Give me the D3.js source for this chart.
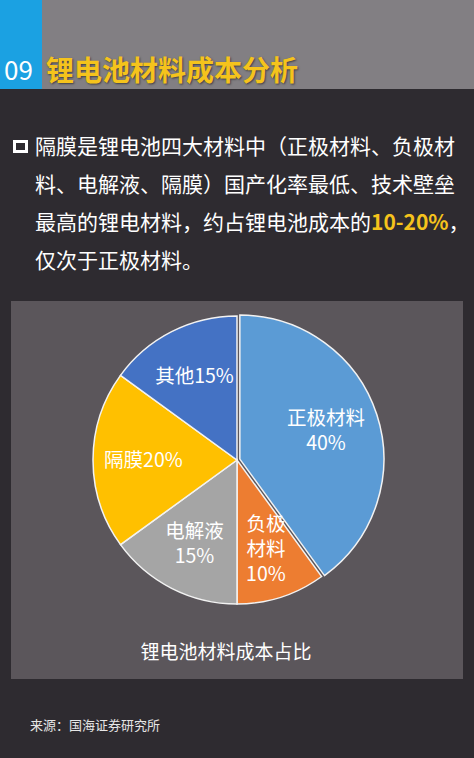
<!DOCTYPE html>
<html>
<head>
<meta charset="utf-8">
<script src="https://cdn.jsdelivr.net/npm/d3@7"></script>
<style>
  html, body { margin: 0; padding: 0; background: #2e2b30; }
  svg { display: block; }
</style>
</head>
<body>
<div id="chart"></div>
<script>
// Chart data
const categories = ['正极材料', '负极材料', '电解液', '隔膜', '其他'];
const shares = [40, 10, 15, 20, 15];
const sliceLabels = [
  ['正极材料', '40%'],
  ['负极', '材料', '10%'],
  ['电解液', '15%'],
  ['隔膜20%'],
  ['其他15%'],
];
const sliceColours = ['#5b9bd5', '#ed7d31', '#a5a5a5', '#ffc000', '#4472c4'];

const titleNo = '09';
const titleText = '锂电池材料成本分析';
const bulletLines = [
  [{ t: '隔膜是锂电池四大材料中（正极材料、负极材' }],
  [{ t: '料、电解液、隔膜）国产化率最低、技术壁垒' }],
  [{ t: '最高的锂电材料，约占锂电池成本的' }, { t: '10-20%', hi: true }, { t: '，' }],
  [{ t: '仅次于正极材料。' }],
];
const chartCaption = '锂电池材料成本占比';
const sourceText = '来源：国海证券研究所';

const width = 474;
const height = 758;
const font = "'Noto Sans CJK SC', 'Noto Sans', sans-serif";

const svg = d3.select('#chart')
  .append('svg')
  .attr('width', width)
  .attr('height', height)
  .style('font-family', font);

// Background
svg.append('rect').attr('width', width).attr('height', height).attr('fill', '#2e2b30');

// Header band
svg.append('rect').attr('x', 0).attr('y', 0).attr('width', 42).attr('height', 89).attr('fill', '#1ba1e2');
svg.append('rect').attr('x', 42).attr('y', 0).attr('width', width - 42).attr('height', 89).attr('fill', '#827f83');
svg.append('text')
  .attr('x', 4).attr('y', 80)
  .attr('fill', '#fff')
  .style('font-size', '26px')
  .text(titleNo);
svg.append('text')
  .attr('x', 46).attr('y', 81)
  .attr('fill', '#f5c31c')
  .style('font-size', '28px')
  .style('font-weight', 'bold')
  .style('text-shadow', '1px 1px 2px rgba(0,0,0,0.5)')
  .text(titleText);

// Bullet paragraph
svg.append('rect')
  .attr('x', 14.5).attr('y', 141.5).attr('width', 12).attr('height', 10)
  .attr('fill', 'none').attr('stroke', '#fff').attr('stroke-width', 3);

const para = svg.append('text')
  .attr('fill', '#fff')
  .style('font-size', '21px');
bulletLines.forEach((line, i) => {
  line.forEach((seg, j) => {
    const ts = para.append('tspan').text(seg.t);
    if (j === 0) ts.attr('x', 35).attr('y', 154 + i * 38);
    if (seg.hi) ts.attr('fill', '#f5c31c').style('font-weight', 'bold');
  });
});

// Chart panel
svg.append('rect')
  .attr('x', 11).attr('y', 301).attr('width', 452).attr('height', 378)
  .attr('fill', '#5b565b');

// Pie
const cx = 237;
const cy = 460;
const radius = 144;

const pie = d3.pie().sort(null).value(d => d);
const arc = d3.arc().innerRadius(0).outerRadius(radius);
const labelArc = d3.arc().innerRadius(radius * 0.65).outerRadius(radius * 0.65);
const arcs = pie(shares);

const g = svg.append('g').attr('transform', `translate(${cx},${cy})`);

g.selectAll('path')
  .data(arcs)
  .enter().append('path')
  .attr('d', arc)
  .attr('transform', (d, i) => {
    // the largest slice sits slightly pulled out
    if (i !== 0) return null;
    const [x, y] = d3.arc().innerRadius(0).outerRadius(3).centroid(d);
    return `translate(${x * 2},${y * 2})`;
  })
  .attr('fill', (d, i) => sliceColours[i])
  .attr('stroke', '#f2f2f2')
  .attr('stroke-width', 1.5);

const lineH = 25;
g.selectAll('.slice-label')
  .data(arcs)
  .enter().append('text')
  .attr('class', 'slice-label')
  .attr('fill', '#fff')
  .attr('text-anchor', 'middle')
  .style('font-size', '19.5px')
  .each(function (d, i) {
    const [x, y] = labelArc.centroid(d);
    const lines = sliceLabels[i];
    const top = y - ((lines.length - 1) * lineH) / 2;
    lines.forEach((ln, k) => {
      d3.select(this).append('tspan')
        .attr('x', x)
        .attr('y', top + k * lineH)
        .attr('dy', '0.35em')
        .text(ln);
    });
  });

// Caption and source
svg.append('text')
  .attr('x', 226).attr('y', 659)
  .attr('text-anchor', 'middle')
  .attr('fill', '#fff')
  .style('font-size', '19px')
  .text(chartCaption);

svg.append('text')
  .attr('x', 30).attr('y', 730)
  .attr('fill', '#e6e6e6')
  .style('font-size', '13px')
  .text(sourceText);
</script>
</body>
</html>
